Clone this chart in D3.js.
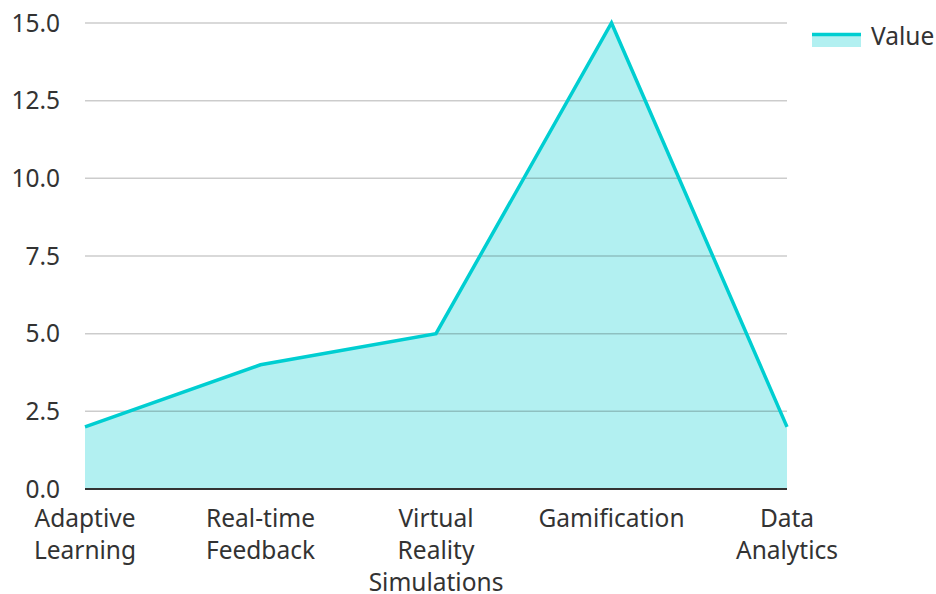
<!DOCTYPE html>
<html><head><meta charset="utf-8">
<script src="https://cdn.jsdelivr.net/npm/d3@7"></script>
<style>body{margin:0;background:#fff}svg{display:block}text{font-family:"Noto Sans",sans-serif;fill:#333}</style>
</head><body><svg id="c" width="936" height="594"></svg>
<script>
const categories = [["Adaptive","Learning"],["Real-time","Feedback"],["Virtual","Reality","Simulations"],["Gamification"],["Data","Analytics"]];
const values = [2, 4, 5, 15, 2];
const yTicks = [0, 2.5, 5, 7.5, 10, 12.5, 15];
const seriesName = "Value";
const color = "#00CED1";
const fs = 24.5;

const svg = d3.select("#c");
const m = {l:85, r:787, t:23, b:489};
const x = d3.scalePoint().domain(d3.range(values.length)).range([m.l, m.r]).padding(0);
const y = d3.scaleLinear().domain([0, 15]).range([m.b, m.t]);

const area = d3.area().x((d,i)=>x(i)).y0(y(0)).y1(d=>y(d));
const line = d3.line().x((d,i)=>x(i)).y(d=>y(d));

svg.append("path").datum(values).attr("d", area).attr("fill", color).attr("fill-opacity", 0.3);

// grid
svg.append("g").selectAll("line").data(yTicks.filter(t=>t>0)).join("line")
  .attr("x1", m.l).attr("x2", m.r).attr("y1", d=>y(d)).attr("y2", d=>y(d))
  .attr("stroke", "rgba(0,0,0,0.2)").attr("stroke-width", 1.5);

svg.append("path").datum(values).attr("d", line).attr("fill", "none")
  .attr("stroke", color).attr("stroke-width", 3.5).attr("stroke-linejoin", "miter");

// y axis labels
svg.append("g").selectAll("text").data(yTicks).join("text")
  .attr("x", 60).attr("y", d=>y(d)).attr("dy", "0.35em").attr("text-anchor", "end")
  .attr("font-size", fs).text(d=>d.toFixed(1));

// baseline
svg.append("line").attr("x1", m.l).attr("x2", m.r).attr("y1", y(0)).attr("y2", y(0))
  .attr("stroke", "#333").attr("stroke-width", 2);

// x labels
const xl = svg.append("g").selectAll("text").data(categories).join("text")
  .attr("x", (d,i)=>x(i)).attr("y", 527).attr("text-anchor", "middle").attr("font-size", fs);
xl.selectAll("tspan").data(d=>d).join("tspan")
  .attr("x", function(){return this.parentNode.getAttribute("x");})
  .attr("dy", (d,i)=>i===0?0:32).text(d=>d);

// legend
const lg = svg.append("g");
lg.append("rect").attr("x", 812).attr("y", 33).attr("width", 49).attr("height", 14).attr("fill", color).attr("fill-opacity", 0.3);
lg.append("line").attr("x1", 812).attr("x2", 861).attr("y1", 34.5).attr("y2", 34.5).attr("stroke", color).attr("stroke-width", 3.5);
lg.append("text").attr("x", 871).attr("y", 36).attr("dy", "0.35em").attr("font-size", fs).text(seriesName);
</script></body></html>
